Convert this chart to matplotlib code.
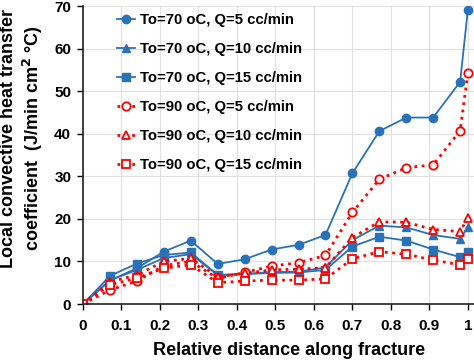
import numpy as np
import matplotlib.pyplot as plt

plt.rcParams['font.family'] = ['Liberation Sans', 'DejaVu Sans']
plt.rcParams['font.weight'] = 'bold'

x = [0, 0.07, 0.14, 0.21, 0.28, 0.35, 0.42, 0.49, 0.56, 0.63, 0.70, 0.77, 0.84, 0.91, 0.98, 1.0]

# T=70 oC
t70_q5 = [0, 5.5, 8.4, 12.3, 14.9, 9.4, 10.5, 12.8, 13.9, 16.2, 30.7, 40.6, 43.8, 43.8, 52.2, 69.1]
t70_q10 = [0, 5.6, 8.0, 10.8, 11.7, 6.8, 7.1, 7.5, 7.6, 8.6, 15.0, 18.4, 18.0, 16.2, 15.3, 18.0]
t70_q15 = [0, 6.6, 9.5, 11.5, 12.1, 6.8, 7.0, 7.3, 7.4, 8.0, 13.5, 15.8, 14.9, 12.8, 11.0, 12.1]
# T=90 oC
t90_q5 = [0, 3.3, 5.4, 9.0, 10.0, 6.0, 7.4, 8.9, 9.7, 11.4, 21.5, 29.3, 32.0, 32.7, 40.7, 54.2]
t90_q10 = [0, 5.2, 6.8, 10.0, 10.7, 6.4, 7.2, 8.0, 8.2, 8.5, 15.6, 19.3, 19.2, 17.5, 17.0, 20.3]
t90_q15 = [0, 4.5, 6.1, 8.4, 9.2, 5.0, 5.4, 5.6, 5.6, 5.9, 10.6, 12.3, 11.7, 10.3, 9.2, 10.6]

labels = ["To=70 oC, Q=5 cc/min", "To=70 oC, Q=10 cc/min", "To=70 oC, Q=15 cc/min",
          "To=90 oC, Q=5 cc/min", "To=90 oC, Q=10 cc/min", "To=90 oC, Q=15 cc/min"]

blue = '#2a72b8'
red = '#ff0000'

fig = plt.figure(figsize=(4.74, 3.64), dpi=100)
ax = fig.add_axes([83/474, 60/364, 1 - 83/474, 298/364])

ax.plot(x, t70_q5, '-', color=blue, lw=1.3, marker='o', ms=6, label=labels[0])
ax.plot(x, t70_q10, '-', color=blue, lw=1.3, marker='^', ms=6, label=labels[1])
ax.plot(x, t70_q15, '-', color=blue, lw=1.3, marker='s', ms=5.5, label=labels[2])
ax.plot(x, t90_q5, ':', color=red, lw=2, marker='o', ms=6, mfc='white', mew=1.3, label=labels[3])
ax.plot(x, t90_q10, ':', color=red, lw=2, marker='^', ms=6, mfc='white', mew=1.3, label=labels[4])
ax.plot(x, t90_q15, ':', color=red, lw=2, marker='s', ms=5.5, mfc='white', mew=1.3, label=labels[5])

ax.set_xlim(0, 1.016)
ax.set_ylim(0, 70)
ax.set_xticks(np.arange(0, 1.01, 0.1))
ax.set_xticklabels(['0', '0.1', '0.2', '0.3', '0.4', '0.5', '0.6', '0.7', '0.8', '0.9', '1'])
ax.set_yticks(range(0, 71, 10))
ax.tick_params(labelsize=11, length=4.5, width=1, direction='out')
ax.tick_params(axis='x', pad=6)
ax.tick_params(axis='y', pad=4)
ax.grid(True, color='#e0e0e0', lw=0.8)
ax.set_axisbelow(True)
for s in ['top', 'right']:
    ax.spines[s].set_visible(False)
for s in ['left', 'bottom']:
    ax.spines[s].set_linewidth(1.2)
    ax.spines[s].set_color('#222222')

ax.set_xlabel("Relative distance along fracture", fontsize=13, fontweight='bold')
ax.xaxis.set_label_coords(0.527, -0.128)
ax.set_ylabel("Local convective heat transfer\ncoefficient  (J/min cm$^\\mathbf{2}$ \u00b0C)",
              fontsize=13, fontweight='bold')
ax.yaxis.set_label_coords(-0.097, 0.555)

ax.legend(loc='upper left', bbox_to_anchor=(0.087, 0.975), frameon=False, fontsize=10.7,
          handlelength=1.2, handletextpad=0.35, labelspacing=1.0,
          borderaxespad=0, borderpad=0)

fig.savefig('out.png', dpi=100)
